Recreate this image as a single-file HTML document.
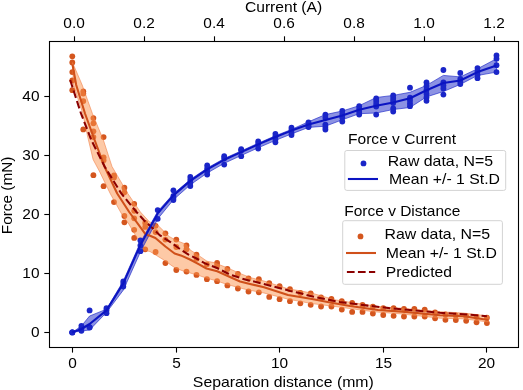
<!DOCTYPE html>
<html><head><meta charset="utf-8"><style>
html,body{margin:0;padding:0;background:#fff;width:523px;height:390px;overflow:hidden}
</style></head><body>
<svg width="523" height="390" viewBox="0 0 523 390" style="display:block;will-change:transform">
<rect width="523" height="390" fill="#fff"/>
<g font-family='"Liberation Sans", sans-serif' fill="#000">
<circle cx="72.30" cy="56.30" r="2.9" fill="#d4561e"/>
<circle cx="72.30" cy="62.50" r="2.9" fill="#d4561e"/>
<circle cx="72.30" cy="72.10" r="2.9" fill="#d4561e"/>
<circle cx="72.30" cy="80.50" r="2.9" fill="#d4561e"/>
<circle cx="72.30" cy="90.20" r="2.9" fill="#d4561e"/>
<circle cx="83.30" cy="91.30" r="2.9" fill="#d4561e"/>
<circle cx="83.30" cy="93.60" r="2.9" fill="#d4561e"/>
<circle cx="83.30" cy="101.10" r="2.9" fill="#d4561e"/>
<circle cx="83.30" cy="129.40" r="2.9" fill="#d4561e"/>
<circle cx="93.40" cy="118.10" r="2.9" fill="#d4561e"/>
<circle cx="93.40" cy="123.30" r="2.9" fill="#d4561e"/>
<circle cx="93.40" cy="131.30" r="2.9" fill="#d4561e"/>
<circle cx="93.40" cy="137.10" r="2.9" fill="#d4561e"/>
<circle cx="93.40" cy="175.20" r="2.9" fill="#d4561e"/>
<circle cx="103.60" cy="137.10" r="2.9" fill="#d4561e"/>
<circle cx="103.60" cy="157.30" r="2.9" fill="#d4561e"/>
<circle cx="103.60" cy="160.20" r="2.9" fill="#d4561e"/>
<circle cx="103.60" cy="186.20" r="2.9" fill="#d4561e"/>
<circle cx="114.00" cy="175.30" r="2.9" fill="#d4561e"/>
<circle cx="114.00" cy="177.50" r="2.9" fill="#d4561e"/>
<circle cx="114.00" cy="202.10" r="2.9" fill="#d4561e"/>
<circle cx="124.40" cy="187.70" r="2.9" fill="#d4561e"/>
<circle cx="124.40" cy="192.30" r="2.9" fill="#d4561e"/>
<circle cx="124.40" cy="216.00" r="2.9" fill="#d4561e"/>
<circle cx="124.40" cy="222.30" r="2.9" fill="#d4561e"/>
<circle cx="134.20" cy="203.80" r="2.9" fill="#d4561e"/>
<circle cx="134.20" cy="210.80" r="2.9" fill="#d4561e"/>
<circle cx="134.20" cy="218.30" r="2.9" fill="#d4561e"/>
<circle cx="134.20" cy="229.80" r="2.9" fill="#d4561e"/>
<circle cx="134.20" cy="237.90" r="2.9" fill="#d4561e"/>
<circle cx="145.20" cy="222.90" r="2.9" fill="#d4561e"/>
<circle cx="145.20" cy="226.90" r="2.9" fill="#d4561e"/>
<circle cx="145.20" cy="249.30" r="2.9" fill="#d4561e"/>
<circle cx="155.60" cy="225.80" r="2.9" fill="#d4561e"/>
<circle cx="155.60" cy="232.10" r="2.9" fill="#d4561e"/>
<circle cx="155.60" cy="252.00" r="2.9" fill="#d4561e"/>
<circle cx="165.40" cy="233.30" r="2.9" fill="#d4561e"/>
<circle cx="165.40" cy="239.60" r="2.9" fill="#d4561e"/>
<circle cx="165.40" cy="263.10" r="2.9" fill="#d4561e"/>
<circle cx="176.30" cy="239.60" r="2.9" fill="#d4561e"/>
<circle cx="176.30" cy="247.00" r="2.9" fill="#d4561e"/>
<circle cx="176.30" cy="270.00" r="2.9" fill="#d4561e"/>
<circle cx="186.50" cy="245.40" r="2.9" fill="#d4561e"/>
<circle cx="186.50" cy="249.20" r="2.9" fill="#d4561e"/>
<circle cx="186.50" cy="271.60" r="2.9" fill="#d4561e"/>
<circle cx="196.50" cy="254.60" r="2.9" fill="#d4561e"/>
<circle cx="196.50" cy="258.80" r="2.9" fill="#d4561e"/>
<circle cx="196.50" cy="274.90" r="2.9" fill="#d4561e"/>
<circle cx="206.90" cy="264.30" r="2.9" fill="#d4561e"/>
<circle cx="206.90" cy="279.20" r="2.9" fill="#d4561e"/>
<circle cx="217.10" cy="263.00" r="2.9" fill="#d4561e"/>
<circle cx="217.10" cy="265.80" r="2.9" fill="#d4561e"/>
<circle cx="217.10" cy="281.20" r="2.9" fill="#d4561e"/>
<circle cx="227.40" cy="269.00" r="2.9" fill="#d4561e"/>
<circle cx="227.40" cy="285.40" r="2.9" fill="#d4561e"/>
<circle cx="237.90" cy="273.80" r="2.9" fill="#d4561e"/>
<circle cx="237.90" cy="288.50" r="2.9" fill="#d4561e"/>
<circle cx="248.50" cy="278.50" r="2.9" fill="#d4561e"/>
<circle cx="248.50" cy="291.50" r="2.9" fill="#d4561e"/>
<circle cx="258.87" cy="279.20" r="2.9" fill="#d4561e"/>
<circle cx="258.87" cy="292.30" r="2.9" fill="#d4561e"/>
<circle cx="269.24" cy="283.10" r="2.9" fill="#d4561e"/>
<circle cx="269.24" cy="296.90" r="2.9" fill="#d4561e"/>
<circle cx="279.60" cy="286.20" r="2.9" fill="#d4561e"/>
<circle cx="279.60" cy="299.20" r="2.9" fill="#d4561e"/>
<circle cx="289.96" cy="289.20" r="2.9" fill="#d4561e"/>
<circle cx="289.96" cy="301.20" r="2.9" fill="#d4561e"/>
<circle cx="300.33" cy="293.00" r="2.9" fill="#d4561e"/>
<circle cx="300.33" cy="303.30" r="2.9" fill="#d4561e"/>
<circle cx="310.69" cy="293.30" r="2.9" fill="#d4561e"/>
<circle cx="310.69" cy="304.80" r="2.9" fill="#d4561e"/>
<circle cx="321.06" cy="297.30" r="2.9" fill="#d4561e"/>
<circle cx="321.06" cy="306.50" r="2.9" fill="#d4561e"/>
<circle cx="331.43" cy="298.80" r="2.9" fill="#d4561e"/>
<circle cx="331.43" cy="306.50" r="2.9" fill="#d4561e"/>
<circle cx="341.79" cy="301.20" r="2.9" fill="#d4561e"/>
<circle cx="341.79" cy="309.60" r="2.9" fill="#d4561e"/>
<circle cx="352.16" cy="302.80" r="2.9" fill="#d4561e"/>
<circle cx="352.16" cy="311.90" r="2.9" fill="#d4561e"/>
<circle cx="362.52" cy="305.00" r="2.9" fill="#d4561e"/>
<circle cx="362.52" cy="311.90" r="2.9" fill="#d4561e"/>
<circle cx="372.88" cy="306.60" r="2.9" fill="#d4561e"/>
<circle cx="372.88" cy="313.50" r="2.9" fill="#d4561e"/>
<circle cx="383.25" cy="308.10" r="2.9" fill="#d4561e"/>
<circle cx="383.25" cy="315.00" r="2.9" fill="#d4561e"/>
<circle cx="393.62" cy="308.10" r="2.9" fill="#d4561e"/>
<circle cx="393.62" cy="315.80" r="2.9" fill="#d4561e"/>
<circle cx="403.98" cy="308.80" r="2.9" fill="#d4561e"/>
<circle cx="403.98" cy="316.50" r="2.9" fill="#d4561e"/>
<circle cx="414.35" cy="308.80" r="2.9" fill="#d4561e"/>
<circle cx="414.35" cy="316.50" r="2.9" fill="#d4561e"/>
<circle cx="424.71" cy="309.60" r="2.9" fill="#d4561e"/>
<circle cx="424.71" cy="316.50" r="2.9" fill="#d4561e"/>
<circle cx="435.08" cy="312.50" r="2.9" fill="#d4561e"/>
<circle cx="435.08" cy="318.30" r="2.9" fill="#d4561e"/>
<circle cx="445.44" cy="314.50" r="2.9" fill="#d4561e"/>
<circle cx="445.44" cy="319.80" r="2.9" fill="#d4561e"/>
<circle cx="455.81" cy="315.40" r="2.9" fill="#d4561e"/>
<circle cx="455.81" cy="320.00" r="2.9" fill="#d4561e"/>
<circle cx="466.17" cy="316.20" r="2.9" fill="#d4561e"/>
<circle cx="466.17" cy="320.80" r="2.9" fill="#d4561e"/>
<circle cx="476.54" cy="317.00" r="2.9" fill="#d4561e"/>
<circle cx="476.54" cy="322.30" r="2.9" fill="#d4561e"/>
<circle cx="486.90" cy="317.70" r="2.9" fill="#d4561e"/>
<circle cx="486.90" cy="323.10" r="2.9" fill="#d4561e"/>
<polygon points="72.50,62.50 82.20,85.00 92.40,113.50 103.40,140.00 112.00,166.50 127.80,193.50 140.40,212.00 149.60,222.00 155.00,223.50 158.40,225.80 169.20,236.50 176.30,240.40 186.50,244.50 190.00,249.80 199.30,255.90 207.00,261.20 214.00,262.60 227.00,267.70 240.00,273.40 250.00,277.50 264.00,281.00 288.00,288.80 300.00,290.80 312.00,293.20 335.00,299.80 352.00,302.60 370.00,305.20 378.00,306.60 402.00,308.20 440.00,311.70 464.00,313.10 488.50,316.00 488.50,322.00 464.00,318.90 440.00,318.20 402.00,314.00 374.00,311.80 335.00,306.50 312.00,303.60 288.00,299.20 264.00,293.00 246.00,289.50 227.20,284.50 217.00,281.00 206.90,278.20 196.20,274.60 186.20,272.00 175.40,268.20 163.80,260.00 150.00,251.50 143.80,250.30 140.50,243.00 135.50,235.50 128.80,224.00 122.20,215.00 110.20,193.50 99.80,172.00 93.10,159.50 87.50,136.00 82.80,113.50 73.50,85.00 72.60,67.00" fill="rgb(251,147,77)" fill-opacity="0.5" stroke="rgb(240,120,60)" stroke-opacity="0.6" stroke-width="0.9" stroke-linejoin="round"/>
<polygon points="72.30,332.40 81.40,326.00 89.60,316.00 106.50,309.20 123.30,281.01 140.40,242.41 157.70,211.42 173.40,193.85 190.30,179.51 207.20,168.10 224.20,158.57 241.20,150.89 258.20,143.20 275.40,135.81 291.50,129.42 308.50,121.80 325.40,114.60 342.30,111.00 359.20,105.70 376.20,97.50 393.20,95.40 410.00,92.30 426.50,85.40 443.40,75.40 460.30,76.90 477.50,68.80 496.50,58.70 496.50,72.10 477.50,75.50 460.30,84.40 443.40,91.50 426.50,96.90 410.00,107.50 393.20,109.50 376.20,113.00 359.20,113.70 342.30,119.80 325.40,126.20 308.50,127.40 291.50,133.93 275.40,140.36 258.20,147.79 241.20,155.50 224.20,163.28 207.20,173.05 190.30,184.81 173.40,199.78 157.70,218.99 140.40,251.93 123.30,290.14 106.50,312.40 89.60,330.00 81.40,331.00 72.30,332.40" fill="#1a25c8" fill-opacity="0.5" stroke="#1a25c8" stroke-opacity="0.8" stroke-width="0.8" stroke-linejoin="round"/>
<circle cx="72.30" cy="332.40" r="2.9" fill="#1a25c8"/>
<circle cx="72.30" cy="332.40" r="2.9" fill="#1a25c8"/>
<circle cx="72.30" cy="332.30" r="2.9" fill="#1a25c8"/>
<circle cx="81.40" cy="325.80" r="2.9" fill="#1a25c8"/>
<circle cx="81.40" cy="328.50" r="2.9" fill="#1a25c8"/>
<circle cx="81.40" cy="330.80" r="2.9" fill="#1a25c8"/>
<circle cx="89.60" cy="310.40" r="2.9" fill="#1a25c8"/>
<circle cx="89.60" cy="327.10" r="2.9" fill="#1a25c8"/>
<circle cx="89.60" cy="327.50" r="2.9" fill="#1a25c8"/>
<circle cx="106.50" cy="308.20" r="2.9" fill="#1a25c8"/>
<circle cx="106.50" cy="310.50" r="2.9" fill="#1a25c8"/>
<circle cx="106.50" cy="313.20" r="2.9" fill="#1a25c8"/>
<circle cx="123.30" cy="281.40" r="2.9" fill="#1a25c8"/>
<circle cx="123.30" cy="284.00" r="2.9" fill="#1a25c8"/>
<circle cx="123.30" cy="286.50" r="2.9" fill="#1a25c8"/>
<circle cx="140.40" cy="240.50" r="2.9" fill="#1a25c8"/>
<circle cx="140.40" cy="245.50" r="2.9" fill="#1a25c8"/>
<circle cx="140.40" cy="251.20" r="2.9" fill="#1a25c8"/>
<circle cx="157.70" cy="210.10" r="2.9" fill="#1a25c8"/>
<circle cx="157.70" cy="218.80" r="2.9" fill="#1a25c8"/>
<circle cx="173.40" cy="190.30" r="2.9" fill="#1a25c8"/>
<circle cx="173.40" cy="196.00" r="2.9" fill="#1a25c8"/>
<circle cx="173.40" cy="198.00" r="2.9" fill="#1a25c8"/>
<circle cx="173.40" cy="200.00" r="2.9" fill="#1a25c8"/>
<circle cx="190.30" cy="177.00" r="2.9" fill="#1a25c8"/>
<circle cx="190.30" cy="180.00" r="2.9" fill="#1a25c8"/>
<circle cx="190.30" cy="183.00" r="2.9" fill="#1a25c8"/>
<circle cx="190.30" cy="186.00" r="2.9" fill="#1a25c8"/>
<circle cx="207.20" cy="165.40" r="2.9" fill="#1a25c8"/>
<circle cx="207.20" cy="168.50" r="2.9" fill="#1a25c8"/>
<circle cx="207.20" cy="171.50" r="2.9" fill="#1a25c8"/>
<circle cx="207.20" cy="174.60" r="2.9" fill="#1a25c8"/>
<circle cx="224.20" cy="156.20" r="2.9" fill="#1a25c8"/>
<circle cx="224.20" cy="158.50" r="2.9" fill="#1a25c8"/>
<circle cx="224.20" cy="164.60" r="2.9" fill="#1a25c8"/>
<circle cx="241.20" cy="149.20" r="2.9" fill="#1a25c8"/>
<circle cx="241.20" cy="150.50" r="2.9" fill="#1a25c8"/>
<circle cx="241.20" cy="156.20" r="2.9" fill="#1a25c8"/>
<circle cx="258.20" cy="141.50" r="2.9" fill="#1a25c8"/>
<circle cx="258.20" cy="144.00" r="2.9" fill="#1a25c8"/>
<circle cx="258.20" cy="148.50" r="2.9" fill="#1a25c8"/>
<circle cx="275.40" cy="133.80" r="2.9" fill="#1a25c8"/>
<circle cx="275.40" cy="136.50" r="2.9" fill="#1a25c8"/>
<circle cx="275.40" cy="139.50" r="2.9" fill="#1a25c8"/>
<circle cx="275.40" cy="142.30" r="2.9" fill="#1a25c8"/>
<circle cx="291.50" cy="127.70" r="2.9" fill="#1a25c8"/>
<circle cx="291.50" cy="130.00" r="2.9" fill="#1a25c8"/>
<circle cx="291.50" cy="133.00" r="2.9" fill="#1a25c8"/>
<circle cx="291.50" cy="135.10" r="2.9" fill="#1a25c8"/>
<circle cx="308.50" cy="122.30" r="2.9" fill="#1a25c8"/>
<circle cx="308.50" cy="124.50" r="2.9" fill="#1a25c8"/>
<circle cx="308.50" cy="126.50" r="2.9" fill="#1a25c8"/>
<circle cx="308.50" cy="127.00" r="2.9" fill="#1a25c8"/>
<circle cx="325.40" cy="114.60" r="2.9" fill="#1a25c8"/>
<circle cx="325.40" cy="117.70" r="2.9" fill="#1a25c8"/>
<circle cx="325.40" cy="124.60" r="2.9" fill="#1a25c8"/>
<circle cx="325.40" cy="127.00" r="2.9" fill="#1a25c8"/>
<circle cx="325.40" cy="129.50" r="2.9" fill="#1a25c8"/>
<circle cx="342.30" cy="110.80" r="2.9" fill="#1a25c8"/>
<circle cx="342.30" cy="114.00" r="2.9" fill="#1a25c8"/>
<circle cx="342.30" cy="117.50" r="2.9" fill="#1a25c8"/>
<circle cx="342.30" cy="121.50" r="2.9" fill="#1a25c8"/>
<circle cx="359.20" cy="106.20" r="2.9" fill="#1a25c8"/>
<circle cx="359.20" cy="109.00" r="2.9" fill="#1a25c8"/>
<circle cx="359.20" cy="112.00" r="2.9" fill="#1a25c8"/>
<circle cx="359.20" cy="114.60" r="2.9" fill="#1a25c8"/>
<circle cx="376.20" cy="98.50" r="2.9" fill="#1a25c8"/>
<circle cx="376.20" cy="101.00" r="2.9" fill="#1a25c8"/>
<circle cx="376.20" cy="104.00" r="2.9" fill="#1a25c8"/>
<circle cx="376.20" cy="106.50" r="2.9" fill="#1a25c8"/>
<circle cx="376.20" cy="114.60" r="2.9" fill="#1a25c8"/>
<circle cx="393.20" cy="95.40" r="2.9" fill="#1a25c8"/>
<circle cx="393.20" cy="98.00" r="2.9" fill="#1a25c8"/>
<circle cx="393.20" cy="100.50" r="2.9" fill="#1a25c8"/>
<circle cx="393.20" cy="103.00" r="2.9" fill="#1a25c8"/>
<circle cx="393.20" cy="108.50" r="2.9" fill="#1a25c8"/>
<circle cx="393.20" cy="111.50" r="2.9" fill="#1a25c8"/>
<circle cx="410.00" cy="87.70" r="2.9" fill="#1a25c8"/>
<circle cx="410.00" cy="97.70" r="2.9" fill="#1a25c8"/>
<circle cx="410.00" cy="100.50" r="2.9" fill="#1a25c8"/>
<circle cx="410.00" cy="103.50" r="2.9" fill="#1a25c8"/>
<circle cx="410.00" cy="106.20" r="2.9" fill="#1a25c8"/>
<circle cx="426.50" cy="82.30" r="2.9" fill="#1a25c8"/>
<circle cx="426.50" cy="86.00" r="2.9" fill="#1a25c8"/>
<circle cx="426.50" cy="90.00" r="2.9" fill="#1a25c8"/>
<circle cx="426.50" cy="94.00" r="2.9" fill="#1a25c8"/>
<circle cx="426.50" cy="97.50" r="2.9" fill="#1a25c8"/>
<circle cx="426.50" cy="100.80" r="2.9" fill="#1a25c8"/>
<circle cx="443.40" cy="70.00" r="2.9" fill="#1a25c8"/>
<circle cx="443.40" cy="82.30" r="2.9" fill="#1a25c8"/>
<circle cx="443.40" cy="85.50" r="2.9" fill="#1a25c8"/>
<circle cx="443.40" cy="88.50" r="2.9" fill="#1a25c8"/>
<circle cx="443.40" cy="94.60" r="2.9" fill="#1a25c8"/>
<circle cx="460.30" cy="73.00" r="2.9" fill="#1a25c8"/>
<circle cx="460.30" cy="78.80" r="2.9" fill="#1a25c8"/>
<circle cx="460.30" cy="81.50" r="2.9" fill="#1a25c8"/>
<circle cx="460.30" cy="84.00" r="2.9" fill="#1a25c8"/>
<circle cx="477.50" cy="68.10" r="2.9" fill="#1a25c8"/>
<circle cx="477.50" cy="71.50" r="2.9" fill="#1a25c8"/>
<circle cx="477.50" cy="75.00" r="2.9" fill="#1a25c8"/>
<circle cx="477.50" cy="78.20" r="2.9" fill="#1a25c8"/>
<circle cx="496.50" cy="55.40" r="2.9" fill="#1a25c8"/>
<circle cx="496.50" cy="58.70" r="2.9" fill="#1a25c8"/>
<circle cx="496.50" cy="65.20" r="2.9" fill="#1a25c8"/>
<circle cx="496.50" cy="72.10" r="2.9" fill="#1a25c8"/>
<polyline points="72.50,64.50 76.20,85.00 85.00,113.50 94.60,140.00 104.50,166.50 117.20,193.50 129.20,212.00 146.00,234.80 150.00,235.70 155.40,238.00 165.40,246.50 174.60,253.50 180.80,255.40 190.00,259.50 198.60,264.20 206.50,268.50 217.20,271.20 230.00,277.00 240.00,281.50 250.00,284.00 264.00,287.30 288.00,295.00 300.00,297.00 312.00,299.00 331.50,302.80 350.00,306.00 378.00,310.00 402.00,311.60 440.00,315.30 464.00,316.20 488.50,320.00" fill="none" stroke="#d0501a" stroke-width="2.08" stroke-linejoin="round"/>
<polyline points="70.20,80.00 71.80,85.00 81.00,113.50 91.30,140.00 104.60,166.50 121.30,193.50 136.50,212.00 144.20,220.50 153.50,229.00 160.00,235.40 170.80,242.30 178.50,248.00 188.50,254.60 196.50,258.50 205.00,263.40 217.00,268.00 230.00,274.60 246.00,279.80 257.00,282.20 290.30,290.90 299.60,293.00 309.30,295.80 339.70,302.00 367.80,305.60 390.00,308.20 440.00,312.80 464.00,314.20 486.90,316.30" fill="none" stroke="#8b0000" stroke-width="2.08" stroke-dasharray="7.7 3.33"/>
<polyline points="72.30,332.40 81.40,329.00 89.60,324.00 106.50,310.40 123.30,283.40 140.40,244.90 157.70,213.40 173.40,195.40 190.30,180.90 207.20,169.40 224.20,159.80 241.20,152.10 258.20,144.40 275.40,137.00 291.50,130.60 308.50,124.60 325.40,120.00 342.30,115.40 359.20,109.70 376.20,105.70 393.20,102.50 410.00,98.30 426.50,90.30 443.40,83.00 460.30,80.50 477.50,72.10 496.50,65.40" fill="none" stroke="#0b14c2" stroke-width="2.08" stroke-linejoin="round"/>
<rect x="49.5" y="41.5" width="469" height="306" fill="none" stroke="#000" stroke-width="1.1"/>
<line x1="72.5" y1="347.5" x2="72.5" y2="352.6" stroke="#000" stroke-width="1.1"/>
<text x="72.50" y="367.6" text-anchor="middle" font-size="13.9" textLength="8.57" lengthAdjust="spacingAndGlyphs" >0</text>
<line x1="176.5" y1="347.5" x2="176.5" y2="352.6" stroke="#000" stroke-width="1.1"/>
<text x="176.50" y="367.6" text-anchor="middle" font-size="13.9" textLength="8.57" lengthAdjust="spacingAndGlyphs" >5</text>
<line x1="279.5" y1="347.5" x2="279.5" y2="352.6" stroke="#000" stroke-width="1.1"/>
<text x="279.50" y="367.6" text-anchor="middle" font-size="13.9" textLength="17.14" lengthAdjust="spacingAndGlyphs" >10</text>
<line x1="383.5" y1="347.5" x2="383.5" y2="352.6" stroke="#000" stroke-width="1.1"/>
<text x="383.50" y="367.6" text-anchor="middle" font-size="13.9" textLength="17.14" lengthAdjust="spacingAndGlyphs" >15</text>
<line x1="486.5" y1="347.5" x2="486.5" y2="352.6" stroke="#000" stroke-width="1.1"/>
<text x="486.50" y="367.6" text-anchor="middle" font-size="13.9" textLength="17.14" lengthAdjust="spacingAndGlyphs" >20</text>
<line x1="74.5" y1="41.5" x2="74.5" y2="36.3" stroke="#000" stroke-width="1.1"/>
<text x="74.10" y="27.7" text-anchor="middle" font-size="13.9" textLength="21.42" lengthAdjust="spacingAndGlyphs" >0.0</text>
<line x1="144.5" y1="41.5" x2="144.5" y2="36.3" stroke="#000" stroke-width="1.1"/>
<text x="144.10" y="27.7" text-anchor="middle" font-size="13.9" textLength="21.42" lengthAdjust="spacingAndGlyphs" >0.2</text>
<line x1="214.5" y1="41.5" x2="214.5" y2="36.3" stroke="#000" stroke-width="1.1"/>
<text x="214.10" y="27.7" text-anchor="middle" font-size="13.9" textLength="21.42" lengthAdjust="spacingAndGlyphs" >0.4</text>
<line x1="284.5" y1="41.5" x2="284.5" y2="36.3" stroke="#000" stroke-width="1.1"/>
<text x="284.10" y="27.7" text-anchor="middle" font-size="13.9" textLength="21.42" lengthAdjust="spacingAndGlyphs" >0.6</text>
<line x1="354.5" y1="41.5" x2="354.5" y2="36.3" stroke="#000" stroke-width="1.1"/>
<text x="354.10" y="27.7" text-anchor="middle" font-size="13.9" textLength="21.42" lengthAdjust="spacingAndGlyphs" >0.8</text>
<line x1="424.5" y1="41.5" x2="424.5" y2="36.3" stroke="#000" stroke-width="1.1"/>
<text x="424.10" y="27.7" text-anchor="middle" font-size="13.9" textLength="21.42" lengthAdjust="spacingAndGlyphs" >1.0</text>
<line x1="494.5" y1="41.5" x2="494.5" y2="36.3" stroke="#000" stroke-width="1.1"/>
<text x="494.10" y="27.7" text-anchor="middle" font-size="13.9" textLength="21.42" lengthAdjust="spacingAndGlyphs" >1.2</text>
<line x1="44.3" y1="332.5" x2="49.5" y2="332.5" stroke="#000" stroke-width="1.1"/>
<text x="39.5" y="337.10" text-anchor="end" font-size="13.9" textLength="8.57" lengthAdjust="spacingAndGlyphs" >0</text>
<line x1="44.3" y1="273.5" x2="49.5" y2="273.5" stroke="#000" stroke-width="1.1"/>
<text x="39.5" y="278.10" text-anchor="end" font-size="13.9" textLength="17.14" lengthAdjust="spacingAndGlyphs" >10</text>
<line x1="44.3" y1="214.5" x2="49.5" y2="214.5" stroke="#000" stroke-width="1.1"/>
<text x="39.5" y="219.10" text-anchor="end" font-size="13.9" textLength="17.14" lengthAdjust="spacingAndGlyphs" >20</text>
<line x1="44.3" y1="155.5" x2="49.5" y2="155.5" stroke="#000" stroke-width="1.1"/>
<text x="39.5" y="160.10" text-anchor="end" font-size="13.9" textLength="17.14" lengthAdjust="spacingAndGlyphs" >30</text>
<line x1="44.3" y1="96.5" x2="49.5" y2="96.5" stroke="#000" stroke-width="1.1"/>
<text x="39.5" y="101.10" text-anchor="end" font-size="13.9" textLength="17.14" lengthAdjust="spacingAndGlyphs" >40</text>
<text x="192.85" y="386.7" text-anchor="start" font-size="13.9" textLength="180.9" lengthAdjust="spacingAndGlyphs" >Separation distance (mm)</text>
<text x="244.95" y="11.5" text-anchor="start" font-size="13.9" textLength="77.2" lengthAdjust="spacingAndGlyphs" >Current (A)</text>
<text transform="translate(12,234.2) rotate(-90)" x="0" y="0" font-size="13.9" textLength="77.7" lengthAdjust="spacingAndGlyphs">Force (mN)</text>
<text x="348.05" y="143.6" text-anchor="start" font-size="13.9" textLength="108.0" lengthAdjust="spacingAndGlyphs" >Force v Current</text>
<rect x="344.8" y="150.5" width="160.9" height="39.9" rx="2" ry="2" fill="#fff" fill-opacity="0.8" stroke="#d3d3d3" stroke-width="1"/>
<circle cx="363.5" cy="163.4" r="2.9" fill="#1a25c8"/>
<line x1="347.9" y1="179" x2="378" y2="179" stroke="#0b14c2" stroke-width="2.08"/>
<text x="387.65" y="166" text-anchor="start" font-size="13.9" textLength="105.4" lengthAdjust="spacingAndGlyphs" >Raw data, N=5</text>
<text x="388.95" y="183.5" text-anchor="start" font-size="13.9" textLength="111.0" lengthAdjust="spacingAndGlyphs" >Mean +/- 1 St.D</text>
<text x="344.25" y="215.8" text-anchor="start" font-size="13.9" textLength="116.2" lengthAdjust="spacingAndGlyphs" >Force v Distance</text>
<rect x="342.7" y="220.7" width="159.7" height="63.6" rx="2" ry="2" fill="#fff" fill-opacity="0.8" stroke="#d3d3d3" stroke-width="1"/>
<circle cx="360.5" cy="236.4" r="2.9" fill="#d4561e"/>
<line x1="346" y1="253" x2="376" y2="253" stroke="#d0501a" stroke-width="2.08"/>
<line x1="346.9" y1="272" x2="375.2" y2="272" stroke="#8b0000" stroke-width="2.08" stroke-dasharray="7.7 3.33"/>
<text x="384.55" y="238.8" text-anchor="start" font-size="13.9" textLength="105.5" lengthAdjust="spacingAndGlyphs" >Raw data, N=5</text>
<text x="385.75" y="257.7" text-anchor="start" font-size="13.9" textLength="111.2" lengthAdjust="spacingAndGlyphs" >Mean +/- 1 St.D</text>
<text x="385.75" y="276.7" text-anchor="start" font-size="13.9" textLength="66.2" lengthAdjust="spacingAndGlyphs" >Predicted</text>
</g></svg>
</body></html>
